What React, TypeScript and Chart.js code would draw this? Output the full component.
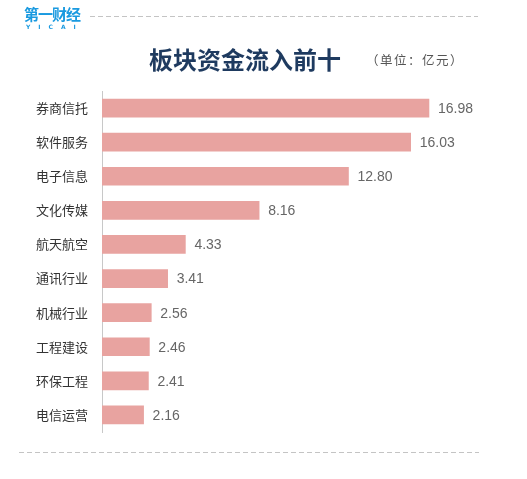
import React, { useEffect, useRef } from "react";
import { Chart, registerables } from "chart.js";

Chart.register(...registerables);

const categories = ["券商信托", "软件服务", "电子信息", "文化传媒", "航天航空", "通讯行业", "机械行业", "工程建设", "环保工程", "电信运营"];
const inflows = [16.98, 16.03, 12.8, 8.16, 4.33, 3.41, 2.56, 2.46, 2.41, 2.16];
const valueLabels = ["16.98", "16.03", "12.80", "8.16", "4.33", "3.41", "2.56", "2.46", "2.41", "2.16"];
const titleText = "板块资金流入前十";
const unitText = "（单位：亿元）";

const decoPlugin = {
  id: "deco",
  afterDatasetsDraw(chart: any) {
    const ctx = chart.ctx;
    const meta = chart.getDatasetMeta(0);
    ctx.save();
    ctx.font = "14px 'Liberation Sans', Arial, sans-serif";
    ctx.fillStyle = "#666666";
    ctx.textBaseline = "middle";
    ctx.textAlign = "left";
    meta.data.forEach((bar: any, i: number) => {
      ctx.fillText(valueLabels[i], bar.x + 9, bar.y + 1);
    });
    ctx.restore();
    ctx.save();
    ctx.strokeStyle = "#c4c4c4";
    ctx.lineWidth = 1;
    ctx.setLineDash([5, 3]);
    ctx.beginPath();
    ctx.moveTo(90, 16.5);
    ctx.lineTo(478, 16.5);
    ctx.moveTo(19, 452.5);
    ctx.lineTo(479, 452.5);
    ctx.stroke();
    ctx.restore();
  },
};

export default function App() {
  const ref = useRef<HTMLCanvasElement>(null);
  useEffect(() => {
    if (!ref.current) return;
    const chart = new Chart(ref.current, {
      type: "bar",
      data: {
        labels: categories,
        datasets: [
          {
            data: inflows,
            backgroundColor: "#e8a3a0",
            barThickness: 18,
          },
        ],
      },
      options: {
        indexAxis: "y",
        animation: false,
        responsive: false,
        maintainAspectRatio: false,
        layout: { padding: { top: 91, bottom: 47, left: 0, right: 37 } },
        plugins: { legend: { display: false }, tooltip: { enabled: false } },
        scales: {
          x: { display: false, min: 0, max: 20.15 },
          y: {
            grid: { display: false, drawTicks: false },
            border: { display: true, color: "#c8c8c8", width: 1 },
            ticks: {
              padding: 14,
              color: "#333333",
              font: { size: 13, family: "'Noto Sans CJK SC', sans-serif" },
            },
            afterFit(scale: any) {
              scale.width = 102;
            },
          },
        },
      },
      plugins: [decoPlugin],
    });
    return () => chart.destroy();
  }, []);

  return (
    <div style={{ position: "fixed", left: 0, top: 0, width: 527, height: 479, background: "#fff", fontFamily: "'Noto Sans CJK SC', sans-serif" }}>
      <canvas ref={ref} width={527} height={479} style={{ position: "absolute", left: 0, top: 0, width: 527, height: 479 }} />
      <div style={{ position: "absolute", left: 24, top: 5, color: "#1a9ae0", fontWeight: 700, fontSize: 15, lineHeight: "18px", letterSpacing: -1 }}>第一财经</div>
      <div style={{ position: "absolute", left: 26, top: 23, color: "#1a9ae0", fontSize: 6, lineHeight: "7px", letterSpacing: 8, fontFamily: "'DejaVu Sans', sans-serif", fontWeight: 700 }}>YICAI</div>
      <div style={{ position: "absolute", left: 0, width: 490, top: 43, textAlign: "center", color: "#1e3a5f", fontWeight: 700, fontSize: 24, lineHeight: "32px" }}>{titleText}</div>
      <div style={{ position: "absolute", left: 366, top: 51, color: "#555555", fontSize: 12.5, lineHeight: "18px", letterSpacing: 1.5 }}>{unitText}</div>
    </div>
  );
}
